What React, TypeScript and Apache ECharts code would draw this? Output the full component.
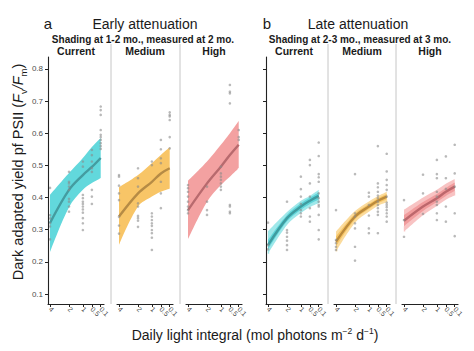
import React, { useEffect, useRef } from "react";
import * as echarts from "echarts";

// ---- data ----
const dliTicks = [4, 2, 1, 0.5, 0.1];
const dliTickLabels = ["4", "2", "1", "0.5", "0.1"];
const yTicks = [0.1, 0.2, 0.3, 0.4, 0.5, 0.6, 0.7, 0.8];

// Early attenuation
const ptsEarlyCurrent = [
  [0.43, 0.345, 0.335, 0.32, 0.31, 0.27],
  [0.48, 0.449, 0.444, 0.434, 0.424, 0.396, 0.387, 0.372, 0.356],
  [0.512, 0.496, 0.408, 0.398, 0.387, 0.38, 0.372, 0.363, 0.353, 0.336, 0.32, 0.299],
  [0.548, 0.532, 0.512, 0.491, 0.48, 0.424, 0.403, 0.38],
  [0.683, 0.672, 0.657, 0.61, 0.595, 0.588, 0.579, 0.569, 0.56, 0.551],
];
const fitEarlyCurrent = [0.321, 0.424, 0.47, 0.495, 0.523];
const loEarlyCurrent = [0.23, 0.37, 0.424, 0.445, 0.46];
const hiEarlyCurrent = [0.408, 0.476, 0.523, 0.557, 0.585];

const ptsEarlyMedium = [
  [0.47, 0.465, 0.437, 0.413, 0.392, 0.34, 0.313, 0.288],
  [0.491, 0.46, 0.434, 0.382, 0.372, 0.343, 0.336, 0.328, 0.309],
  [0.512, 0.501, 0.351, 0.341, 0.33, 0.32, 0.312, 0.299, 0.289, 0.275, 0.237],
  [0.579, 0.55, 0.522, 0.507, 0.449, 0.413, 0.367],
  [0.665, 0.657, 0.652, 0.641, 0.588, 0.553],
];
const fitEarlyMedium = [0.341, 0.413, 0.449, 0.475, 0.491];
const loEarlyMedium = [0.252, 0.372, 0.403, 0.418, 0.427];
const hiEarlyMedium = [0.432, 0.47, 0.507, 0.532, 0.556];

const ptsEarlyHigh = [
  [0.439, 0.429, 0.418, 0.403, 0.387, 0.372, 0.361, 0.351],
  [0.434, 0.387, 0.361, 0.346],
  [0.496, 0.475, 0.465, 0.455, 0.444, 0.434, 0.424],
  [0.75, 0.729, 0.724, 0.693, 0.377, 0.372, 0.356, 0.351],
  [0.61, 0.588, 0.579],
];
const fitEarlyHigh = [0.361, 0.444, 0.496, 0.532, 0.564];
const loEarlyHigh = [0.27, 0.387, 0.439, 0.465, 0.491];
const hiEarlyHigh = [0.452, 0.512, 0.564, 0.6, 0.638];

// Late attenuation
const ptsLateCurrent = [
  [0.322, 0.252, 0.239],
  [0.387, 0.299, 0.291, 0.278, 0.266, 0.252, 0.237],
  [0.465, 0.426, 0.403, 0.38, 0.361, 0.351, 0.341],
  [0.517, 0.501, 0.444, 0.403, 0.367, 0.341, 0.325],
  [0.571, 0.529, 0.473, 0.463, 0.449, 0.413, 0.398, 0.387, 0.377, 0.372, 0.346, 0.299, 0.27],
];
const fitLateCurrent = [0.252, 0.336, 0.372, 0.39, 0.405];
const outerLoLateCurrent = [0.225, 0.315, 0.352, 0.37, 0.382];
const outerHiLateCurrent = [0.295, 0.355, 0.39, 0.405, 0.424];
const innerLoLateCurrent = [0.238, 0.326, 0.362, 0.38, 0.394];
const innerHiLateCurrent = [0.268, 0.346, 0.382, 0.4, 0.416];

const ptsLateMedium = [
  [0.361, 0.268, 0.258, 0.247, 0.237],
  [0.473, 0.351, 0.341, 0.32, 0.304, 0.247, 0.204],
  [0.415, 0.403, 0.377, 0.344, 0.304, 0.289],
  [0.56, 0.444, 0.432, 0.418, 0.406, 0.398, 0.387, 0.377, 0.367, 0.356, 0.346, 0.289],
  [0.536, 0.481, 0.455, 0.439, 0.424, 0.403, 0.384, 0.377, 0.37, 0.361, 0.351, 0.341, 0.325],
];
const fitLateMedium = [0.263, 0.341, 0.372, 0.39, 0.403];
const outerLoLateMedium = [0.232, 0.322, 0.356, 0.374, 0.385];
const outerHiLateMedium = [0.294, 0.358, 0.388, 0.404, 0.418];
const innerLoLateMedium = [0.248, 0.332, 0.364, 0.382, 0.395];
const innerHiLateMedium = [0.279, 0.35, 0.38, 0.397, 0.411];

const ptsLateHigh = [
  [0.392, 0.33, 0.278],
  [0.471, 0.413, 0.349],
  [0.517, 0.473, 0.46, 0.418, 0.403, 0.387, 0.377, 0.351, 0.33],
  [0.528, 0.46, 0.427, 0.372, 0.325],
  [0.564, 0.475, 0.434, 0.351, 0.28],
];
const fitLateHigh = [0.328, 0.372, 0.398, 0.418, 0.434];
const outerLoLateHigh = [0.294, 0.345, 0.374, 0.393, 0.406];
const outerHiLateHigh = [0.362, 0.4, 0.424, 0.443, 0.458];
const innerLoLateHigh = [0.311, 0.358, 0.386, 0.405, 0.42];
const innerHiLateHigh = [0.345, 0.386, 0.411, 0.43, 0.447];

// ---- presentation ----
const FONT = '"Liberation Sans", Arial, Helvetica, sans-serif';
const T = (d: number) => Math.log(d + 1.7); // axis transform of daily light integral
const tickPos = dliTicks.map(T);
const Y_MIN = 0.069;
const Y_MAX = 0.837;
const X_LABEL_SIZE = 7;
const X_LABEL_MARGIN = 4;
const X_LABEL_COLOR = "#4d4d4d";

type Panel = {
  pts: number[][];
  fit: number[];
  bands: { lo: number[]; hi: number[]; color: string }[];
  lineColor: string;
};

const panels: Panel[] = [
  { pts: ptsEarlyCurrent, fit: fitEarlyCurrent, bands: [{ lo: loEarlyCurrent, hi: hiEarlyCurrent, color: "#62d8dc" }], lineColor: "#449ca0" },
  { pts: ptsEarlyMedium, fit: fitEarlyMedium, bands: [{ lo: loEarlyMedium, hi: hiEarlyMedium, color: "#f8c567" }], lineColor: "#b68b45" },
  { pts: ptsEarlyHigh, fit: fitEarlyHigh, bands: [{ lo: loEarlyHigh, hi: hiEarlyHigh, color: "#f3a1a1" }], lineColor: "#b86a6e" },
  {
    pts: ptsLateCurrent, fit: fitLateCurrent, lineColor: "#3f9ca0",
    bands: [
      { lo: outerLoLateCurrent, hi: outerHiLateCurrent, color: "#9fe8ea" },
      { lo: innerLoLateCurrent, hi: innerHiLateCurrent, color: "#5fd5d9" },
    ],
  },
  {
    pts: ptsLateMedium, fit: fitLateMedium, lineColor: "#bb8a3c",
    bands: [
      { lo: outerLoLateMedium, hi: outerHiLateMedium, color: "#fbdb9c" },
      { lo: innerLoLateMedium, hi: innerHiLateMedium, color: "#f6c463" },
    ],
  },
  {
    pts: ptsLateHigh, fit: fitLateHigh, lineColor: "#bd676c",
    bands: [
      { lo: outerLoLateHigh, hi: outerHiLateHigh, color: "#f8c3c3" },
      { lo: innerLoLateHigh, hi: innerHiLateHigh, color: "#f19c9d" },
    ],
  },
];

const gridLefts = [48, 117, 186, 266, 334, 402];
// the last (overlapping) tick label is placed separately so the axis does not drop it
const axisLabelPos = tickPos.slice(0, tickPos.length - 1);

function buildOption() {
  const grid = gridLefts.map((l) => ({ left: l, top: 57, width: 56, height: 247, containLabel: false }));
  const xAxis = gridLefts.map((_, i) => ({
    gridIndex: i,
    type: "value",
    inverse: true,
    min: 0.513,
    max: 1.786,
    z: 10,
    axisLine: { show: true, lineStyle: { color: "#222", width: 1.1 } },
    axisTick: { show: true, length: 3, customValues: tickPos, lineStyle: { color: "#222", width: 1 } },
    axisLabel: {
      show: true,
      customValues: axisLabelPos,
      hideOverlap: false,
      showMinLabel: true,
      showMaxLabel: true,
      rotate: -45,
      margin: X_LABEL_MARGIN,
      fontSize: X_LABEL_SIZE,
      fontFamily: FONT,
      color: X_LABEL_COLOR,
      formatter: (v: number) => {
        const k = tickPos.findIndex((p) => Math.abs(p - v) < 1e-6);
        return k >= 0 ? dliTickLabels[k] : "";
      },
    },
    splitLine: { show: false },
  }));
  const yAxis = gridLefts.map((_, i) => ({
    gridIndex: i,
    type: "value",
    min: Y_MIN,
    max: Y_MAX,
    show: i === 0 || i === 3,
    z: 10,
    axisLine: { show: true, lineStyle: { color: "#222", width: 1.1 } },
    axisTick: { show: true, length: 3, customValues: yTicks, lineStyle: { color: "#222", width: 1 } },
    axisLabel: {
      show: i === 0,
      customValues: yTicks,
      showMinLabel: true,
      showMaxLabel: true,
      margin: 5,
      fontSize: 8,
      fontFamily: FONT,
      color: "#4d4d4d",
      formatter: (v: number) => v.toFixed(1),
    },
    splitLine: { show: false },
  }));

  const series: any[] = [];
  const xL = T(dliTicks[0]);
  const xR = T(dliTicks[dliTicks.length - 1]);
  panels.forEach((p, i) => {
    let z = 1;
    const area = (vals: number[], color: string, floor: number[] | null) => {
      const zz = z++;
      const s: any = {
        type: "line",
        xAxisIndex: i,
        yAxisIndex: i,
        data: dliTicks.map((d, k) => [T(d), vals[k]]),
        smooth: 0.35,
        showSymbol: false,
        symbol: "none",
        silent: true,
        z: zz,
        lineStyle: { width: 0, opacity: 0 },
        areaStyle: { color, opacity: 1, origin: "start" },
      };
      if (floor) {
        const n = vals.length - 1;
        s.markLine = {
          silent: true,
          symbol: "none",
          animation: false,
          label: { show: false },
          lineStyle: { color, width: 1.4, type: "solid", opacity: 1 },
          data: [
            [{ coord: [xR, vals[n]] }, { coord: [xR, floor[n]] }],
            [{ coord: [xL, vals[0]] }, { coord: [xL, floor[0]] }],
          ],
        };
      }
      return s;
    };
    const nb = p.bands.length;
    const bottom = dliTicks.map(() => Y_MIN);
    for (let b = 0; b < nb; b++) series.push(area(p.bands[b].hi, p.bands[b].color, null));
    for (let b = nb - 1; b >= 0; b--) {
      const below = b === 0 ? "#ffffff" : p.bands[b - 1].color;
      const floor = b === 0 ? bottom : p.bands[b - 1].lo;
      series.push(area(p.bands[b].lo, below, floor));
    }
    series.push({
      type: "line",
      xAxisIndex: i,
      yAxisIndex: i,
      data: dliTicks.map((d, k) => [T(d), p.fit[k]]),
      smooth: 0.35,
      showSymbol: false,
      symbol: "none",
      silent: true,
      z: 8,
      lineStyle: { color: p.lineColor, width: 2.4 },
    });
    const scatterData: number[][] = [];
    p.pts.forEach((col, k) => col.forEach((v) => scatterData.push([T(dliTicks[k]), v])));
    series.push({
      type: "scatter",
      xAxisIndex: i,
      yAxisIndex: i,
      data: scatterData,
      symbolSize: 2.6,
      silent: true,
      z: 9,
      itemStyle: { color: "#8a8a8a", opacity: 0.6 },
    });
  });

  const txt = (text: string, x: number, y: number, size: number, weight: string = "normal") => ({
    type: "text",
    x,
    y,
    silent: true,
    z: 20,
    style: {
      text,
      fontSize: size,
      fontWeight: weight,
      fontFamily: FONT,
      fill: "#1a1a1a",
      align: "center",
      verticalAlign: "middle",
    },
  });

  const dividers = [111, 180, 328, 396].map((x) => ({
    type: "line",
    silent: true,
    z: 1,
    shape: { x1: x, y1: 44, x2: x, y2: 304 },
    style: { stroke: "#c6c6c6", lineWidth: 1 },
  }));

  const stripNames = ["Current", "Medium", "High"];
  const stripCenters = [76, 145, 214, 294, 362, 430];

  const graphic: any[] = [
    ...dividers,
    txt("a", 48, 23, 15),
    txt("Early attenuation", 145, 24, 14),
    txt("b", 267, 23, 15),
    txt("Late attenuation", 358, 24, 14),
    txt("Shading at 1-2 mo., measured at 2 mo.", 143, 39, 10, "bold"),
    txt("Shading at 2-3 mo., measured at 3 mo.", 360, 39, 10, "bold"),
    ...stripCenters.map((cx, k) => txt(stripNames[k % 3], cx, 50.5, 10.5, "bold")),
    {
      type: "text",
      x: 18,
      y: 172,
      rotation: Math.PI / 2,
      silent: true,
      z: 20,
      style: {
        text: "Dark adapted yield pf PSII ({i|F}{s|v}{i|/F}{s|m})",
        fontSize: 14.5,
        fontFamily: FONT,
        fill: "#1a1a1a",
        align: "center",
        verticalAlign: "middle",
        rich: {
          i: { fontStyle: "italic", fontSize: 14.5, fontFamily: FONT, fill: "#1a1a1a" },
          s: { fontSize: 9.5, fontFamily: FONT, fill: "#1a1a1a", verticalAlign: "bottom", lineHeight: 20 },
        },
      },
    },
    {
      type: "text",
      x: 255,
      y: 335,
      silent: true,
      z: 20,
      style: {
        text: "Daily light integral (mol photons m{s|−2} d{s|−1})",
        fontSize: 14,
        fontFamily: FONT,
        fill: "#1a1a1a",
        align: "center",
        verticalAlign: "middle",
        rich: {
          s: { fontSize: 8.5, fontFamily: FONT, fill: "#1a1a1a", verticalAlign: "top", lineHeight: 18 },
        },
      },
    },
  ];

  return {
    animation: false,
    backgroundColor: "#ffffff",
    grid,
    xAxis,
    yAxis,
    series,
    graphic,
  };
}

export default function App() {
  const ref = useRef<HTMLDivElement>(null);
  useEffect(() => {
    if (!ref.current) return;
    const chart = echarts.init(ref.current, undefined, { renderer: "svg" });
    const option: any = buildOption();
    chart.setOption(option);
    // last tick label of each panel, placed at the axis' own pixel position for that value
    const lastIdx = dliTicks.length - 1;
    const extra = gridLefts.map((_, i) => {
      const x = chart.convertToPixel({ xAxisIndex: i } as any, tickPos[lastIdx]) as number;
      const y = chart.convertToPixel({ yAxisIndex: i } as any, Y_MIN) as number;
      return {
        type: "text",
        x,
        y: y + X_LABEL_MARGIN,
        rotation: -Math.PI / 4,
        silent: true,
        z: 20,
        style: {
          text: dliTickLabels[lastIdx],
          fontSize: X_LABEL_SIZE,
          fontFamily: FONT,
          fill: X_LABEL_COLOR,
          align: "left",
          verticalAlign: "middle",
        },
      };
    });
    chart.setOption({ graphic: [...option.graphic, ...extra] });
    return () => chart.dispose();
  }, []);
  return (
    <div
      ref={ref}
      style={{ position: "fixed", left: 0, top: 0, width: 474, height: 351, background: "#fff" }}
    />
  );
}
